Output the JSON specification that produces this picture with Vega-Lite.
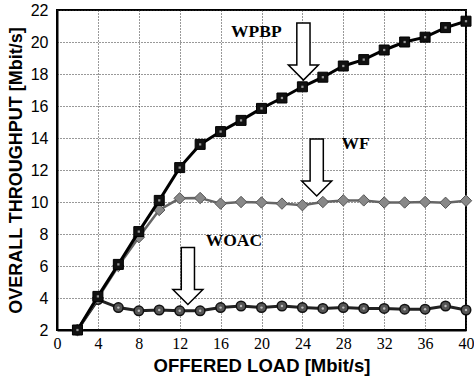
{
  "$schema": "https://vega.github.io/schema/vega-lite/v6.json",
  "width": 409,
  "height": 320,
  "autosize": {"type": "none"},
  "padding": {"left": 57, "top": 10, "right": 8, "bottom": 57},
  "background": "white",
  "config": {
    "view": {"stroke": "black", "strokeWidth": 2},
    "axis": {
      "grid": true,
      "gridColor": "#333",
      "gridDash": [1, 2],
      "gridWidth": 1,
      "ticks": false,
      "domainColor": "black",
      "domainWidth": 2,
      "labelColor": "black",
      "titleColor": "black",
      "titleFont": "Liberation Sans",
      "titleFontWeight": "bold",
      "titleFontSize": 18
    }
  },
  "datasets": {
    "series": [
      {"load": 2, "throughput": 2.0, "scheme": "WPBP"},
      {"load": 4, "throughput": 4.1, "scheme": "WPBP"},
      {"load": 6, "throughput": 6.1, "scheme": "WPBP"},
      {"load": 8, "throughput": 8.15, "scheme": "WPBP"},
      {"load": 10, "throughput": 10.1, "scheme": "WPBP"},
      {"load": 12, "throughput": 12.15, "scheme": "WPBP"},
      {"load": 14, "throughput": 13.6, "scheme": "WPBP"},
      {"load": 16, "throughput": 14.4, "scheme": "WPBP"},
      {"load": 18, "throughput": 15.1, "scheme": "WPBP"},
      {"load": 20, "throughput": 15.85, "scheme": "WPBP"},
      {"load": 22, "throughput": 16.5, "scheme": "WPBP"},
      {"load": 24, "throughput": 17.2, "scheme": "WPBP"},
      {"load": 26, "throughput": 17.8, "scheme": "WPBP"},
      {"load": 28, "throughput": 18.5, "scheme": "WPBP"},
      {"load": 30, "throughput": 18.9, "scheme": "WPBP"},
      {"load": 32, "throughput": 19.5, "scheme": "WPBP"},
      {"load": 34, "throughput": 20.0, "scheme": "WPBP"},
      {"load": 36, "throughput": 20.3, "scheme": "WPBP"},
      {"load": 38, "throughput": 20.9, "scheme": "WPBP"},
      {"load": 40, "throughput": 21.3, "scheme": "WPBP"},
      {"load": 2, "throughput": 2.0, "scheme": "WF"},
      {"load": 4, "throughput": 4.0, "scheme": "WF"},
      {"load": 6, "throughput": 6.0, "scheme": "WF"},
      {"load": 8, "throughput": 7.8, "scheme": "WF"},
      {"load": 10, "throughput": 9.5, "scheme": "WF"},
      {"load": 12, "throughput": 10.23, "scheme": "WF"},
      {"load": 14, "throughput": 10.25, "scheme": "WF"},
      {"load": 16, "throughput": 9.9, "scheme": "WF"},
      {"load": 18, "throughput": 10.0, "scheme": "WF"},
      {"load": 20, "throughput": 9.97, "scheme": "WF"},
      {"load": 22, "throughput": 9.9, "scheme": "WF"},
      {"load": 24, "throughput": 9.8, "scheme": "WF"},
      {"load": 26, "throughput": 10.0, "scheme": "WF"},
      {"load": 28, "throughput": 10.1, "scheme": "WF"},
      {"load": 30, "throughput": 10.1, "scheme": "WF"},
      {"load": 32, "throughput": 9.97, "scheme": "WF"},
      {"load": 34, "throughput": 9.97, "scheme": "WF"},
      {"load": 36, "throughput": 10.0, "scheme": "WF"},
      {"load": 38, "throughput": 9.95, "scheme": "WF"},
      {"load": 40, "throughput": 10.08, "scheme": "WF"},
      {"load": 2, "throughput": 2.0, "scheme": "WOAC"},
      {"load": 4, "throughput": 3.9, "scheme": "WOAC"},
      {"load": 6, "throughput": 3.4, "scheme": "WOAC"},
      {"load": 8, "throughput": 3.2, "scheme": "WOAC"},
      {"load": 10, "throughput": 3.25, "scheme": "WOAC"},
      {"load": 12, "throughput": 3.2, "scheme": "WOAC"},
      {"load": 14, "throughput": 3.2, "scheme": "WOAC"},
      {"load": 16, "throughput": 3.4, "scheme": "WOAC"},
      {"load": 18, "throughput": 3.5, "scheme": "WOAC"},
      {"load": 20, "throughput": 3.4, "scheme": "WOAC"},
      {"load": 22, "throughput": 3.5, "scheme": "WOAC"},
      {"load": 24, "throughput": 3.4, "scheme": "WOAC"},
      {"load": 26, "throughput": 3.35, "scheme": "WOAC"},
      {"load": 28, "throughput": 3.4, "scheme": "WOAC"},
      {"load": 30, "throughput": 3.35, "scheme": "WOAC"},
      {"load": 32, "throughput": 3.35, "scheme": "WOAC"},
      {"load": 34, "throughput": 3.3, "scheme": "WOAC"},
      {"load": 36, "throughput": 3.3, "scheme": "WOAC"},
      {"load": 38, "throughput": 3.5, "scheme": "WOAC"},
      {"load": 40, "throughput": 3.25, "scheme": "WOAC"}
    ],
    "arrows": [
      {"load": 24.1, "throughput": 19.4},
      {"load": 25.4, "throughput": 12.16},
      {"load": 12.8, "throughput": 5.38}
    ],
    "labels": [
      {"load": 19.5, "throughput": 20.6, "label": "WPBP"},
      {"load": 29.2, "throughput": 13.6, "label": "WF"},
      {"load": 17.3, "throughput": 7.58, "label": "WOAC"}
    ]
  },
  "encoding": {
    "x": {
      "field": "load",
      "type": "quantitative",
      "scale": {"domain": [0, 40], "nice": false},
      "axis": {
        "title": "OFFERED LOAD [Mbit/s]",
        "values": [0, 4, 8, 12, 16, 20, 24, 28, 32, 36, 40],
        "labelFont": "Liberation Serif",
        "labelFontSize": 16,
        "labelPadding": 5,
        "labelFlush": false,
        "titlePadding": 5,
        "titleFontSize": 18.5
      }
    },
    "y": {
      "field": "throughput",
      "type": "quantitative",
      "scale": {"domain": [2, 22], "nice": false},
      "axis": {
        "title": "OVERALL THROUGHPUT [Mbit/s]",
        "values": [2, 4, 6, 8, 10, 12, 14, 16, 18, 20, 22],
        "labelFont": "Liberation Sans",
        "labelFontSize": 16,
        "labelPadding": 9,
        "labelFlush": false,
        "titlePadding": 5,
        "titleFontSize": 18
      }
    }
  },
  "layer": [
    {
      "data": {"name": "series"},
      "transform": [{"filter": "datum.scheme === 'WOAC'"}],
      "mark": {"type": "line", "color": "#222", "strokeWidth": 3}
    },
    {
      "data": {"name": "series"},
      "transform": [{"filter": "datum.scheme === 'WOAC'"}],
      "mark": {"type": "point", "shape": "circle", "filled": true, "fill": "#555", "stroke": "#111", "strokeWidth": 1.5, "size": 90, "opacity": 1}
    },
    {
      "data": {"name": "series"},
      "transform": [{"filter": "datum.scheme === 'WOAC'"}],
      "mark": {"type": "point", "shape": "circle", "filled": true, "fill": "#bbb", "size": 6, "opacity": 1}
    },
    {
      "data": {"name": "series"},
      "transform": [{"filter": "datum.scheme === 'WF'"}],
      "mark": {"type": "line", "color": "#666", "strokeWidth": 2.5}
    },
    {
      "data": {"name": "series"},
      "transform": [{"filter": "datum.scheme === 'WF'"}],
      "mark": {"type": "point", "shape": "diamond", "filled": true, "fill": "#888", "stroke": "#555", "strokeWidth": 1, "size": 130, "opacity": 1}
    },
    {
      "data": {"name": "series"},
      "transform": [{"filter": "datum.scheme === 'WPBP'"}],
      "mark": {"type": "line", "color": "black", "strokeWidth": 3}
    },
    {
      "data": {"name": "series"},
      "transform": [{"filter": "datum.scheme === 'WPBP'"}],
      "mark": {"type": "point", "shape": "square", "filled": true, "fill": "#111", "stroke": "black", "strokeWidth": 1, "size": 100, "opacity": 1}
    },
    {
      "data": {"name": "series"},
      "transform": [{"filter": "datum.scheme === 'WPBP'"}],
      "mark": {"type": "point", "shape": "square", "filled": true, "fill": "#999", "size": 5, "opacity": 1}
    },
    {
      "data": {"name": "arrows"},
      "mark": {
        "type": "point",
        "shape": "M -0.22 -0.95 L 0.22 -0.95 L 0.22 0.45 L 0.5 0.45 L 0 0.95 L -0.5 0.45 L -0.22 0.45 Z",
        "filled": true,
        "fill": "white",
        "stroke": "black",
        "strokeWidth": 1.5,
        "size": 3600,
        "opacity": 1
      }
    },
    {
      "data": {"name": "labels"},
      "mark": {"type": "text", "font": "Liberation Serif", "fontWeight": "bold", "fontSize": 17.5, "color": "black", "align": "center", "baseline": "middle"},
      "encoding": {"text": {"field": "label"}}
    }
  ]
}
